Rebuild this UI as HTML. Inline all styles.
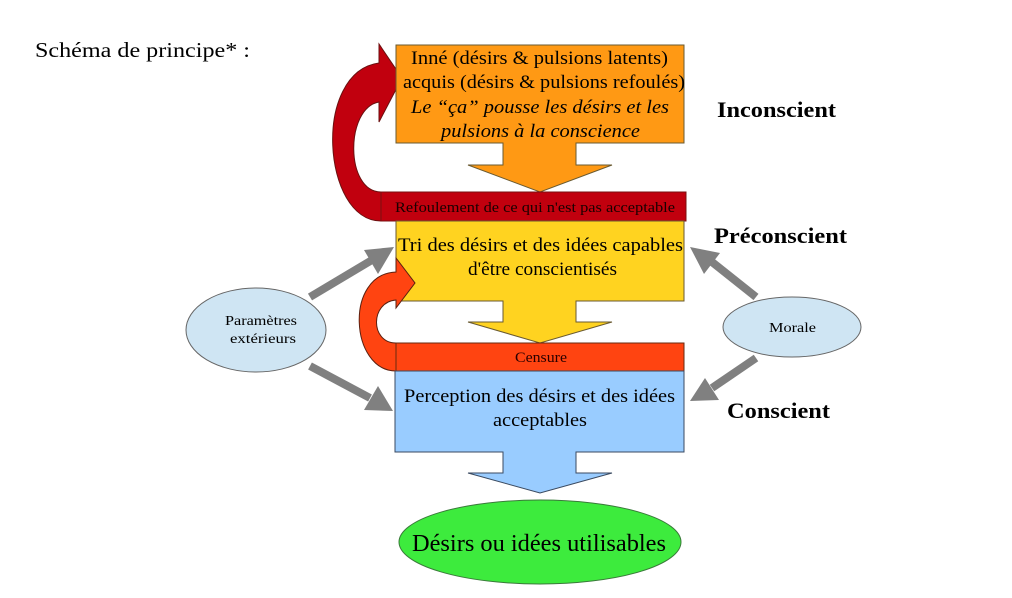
<!DOCTYPE html>
<html><head><meta charset="utf-8"><style>
html,body{margin:0;padding:0;background:#fff;}
svg{display:block;}
text{font-family:"Liberation Serif",serif;}
</style></head><body>
<svg width="1012" height="598" viewBox="0 0 1012 598" xmlns="http://www.w3.org/2000/svg">
<rect width="1012" height="598" fill="#fff"/>
<text x="35" y="57" font-size="21" fill="#000" textLength="215" lengthAdjust="spacingAndGlyphs">Schéma de principe* :</text>

<!-- big red curved arrow -->
<path d="M381,221 C322,221 312,72 379,63 L379,44 L402,78 L379,122 L379,102 C345,108 345,192 381,192 Z" fill="#c1000e" stroke="#6a1010" stroke-width="1"/>

<!-- orange box + arrow -->
<polygon points="396,45 684,45 684,143 576,143 576,165 612,165 540,192 468,165 503,165 503,143 396,143" fill="#ff9914" stroke="#6a5a30" stroke-width="1"/>
<text x="411" y="64" font-size="19" textLength="257" lengthAdjust="spacingAndGlyphs">Inné (désirs &amp; pulsions latents)</text>
<text x="403" y="88" font-size="19" textLength="282" lengthAdjust="spacingAndGlyphs">acquis (désirs &amp; pulsions refoulés)</text>
<text x="411" y="113" font-size="19" font-style="italic" textLength="258" lengthAdjust="spacingAndGlyphs">Le “ça” pousse les désirs et les</text>
<text x="441" y="137" font-size="19" font-style="italic" textLength="199" lengthAdjust="spacingAndGlyphs">pulsions à la conscience</text>

<!-- red bar -->
<rect x="381" y="192" width="305" height="29" fill="#c1000e" stroke="#7a1010" stroke-width="1"/>
<text x="395" y="212" font-size="15" fill="#1a0000" textLength="280" lengthAdjust="spacingAndGlyphs">Refoulement de ce qui n'est pas acceptable</text>

<!-- yellow box + arrow -->
<polygon points="396,221 684,221 684,301 576,301 576,322 612,322 540,343 468,322 503,322 503,301 396,301" fill="#ffd320" stroke="#6a5a30" stroke-width="1"/>
<text x="398" y="251" font-size="19" textLength="285" lengthAdjust="spacingAndGlyphs">Tri des désirs et des idées capables</text>
<text x="468" y="275" font-size="19" textLength="149" lengthAdjust="spacingAndGlyphs">d'être conscientisés</text>

<!-- small curved arrow -->
<path d="M396,371 C350,371 344,274 396,272 L396,258 L415,283 L396,308 L396,300 C370,302 370,343 396,343 Z" fill="#ff4411" stroke="#5a2010" stroke-width="1"/>

<!-- censure bar -->
<rect x="396" y="343" width="288" height="28" fill="#ff4411" stroke="#6a2a10" stroke-width="1"/>
<text x="515" y="362" font-size="15" fill="#2a0000" textLength="52" lengthAdjust="spacingAndGlyphs">Censure</text>

<!-- blue box + arrow -->
<polygon points="395,371 684,371 684,452 576,452 576,473 612,473 540,493 468,473 503,473 503,452 395,452" fill="#99ccff" stroke="#3a4a60" stroke-width="1"/>
<text x="404" y="402" font-size="19" textLength="271" lengthAdjust="spacingAndGlyphs">Perception des désirs et des idées</text>
<text x="493" y="426" font-size="19" textLength="94" lengthAdjust="spacingAndGlyphs">acceptables</text>

<!-- green ellipse -->
<ellipse cx="540" cy="542" rx="141" ry="42" fill="#3deb3d" stroke="#3a7a3a" stroke-width="1"/>
<text x="412" y="551" font-size="24" textLength="254" lengthAdjust="spacingAndGlyphs">Désirs ou idées utilisables</text>

<!-- gray arrows -->
<g stroke="#808080" stroke-width="8" fill="#808080">
<line x1="310" y1="297" x2="372" y2="260"/>
<line x1="310" y1="366" x2="370" y2="398"/>
<line x1="756" y1="297" x2="712" y2="262"/>
<line x1="756" y1="358" x2="712" y2="388"/>
</g>
<g fill="#808080">
<polygon points="394,247 364,250 378,274"/>
<polygon points="393,411 378,386 364,410"/>
<polygon points="690,247 720,253 704,274"/>
<polygon points="690,401 705,378 719,400"/>
</g>

<!-- side ellipses -->
<ellipse cx="256" cy="330" rx="70" ry="42" fill="#cfe5f3" stroke="#666" stroke-width="1"/>
<text x="225" y="325" font-size="14" textLength="72" lengthAdjust="spacingAndGlyphs">Paramètres</text>
<text x="230" y="343" font-size="14" textLength="66" lengthAdjust="spacingAndGlyphs">extérieurs</text>
<ellipse cx="792" cy="327" rx="69" ry="30" fill="#cfe5f3" stroke="#666" stroke-width="1"/>
<text x="769" y="332" font-size="14" textLength="47" lengthAdjust="spacingAndGlyphs">Morale</text>

<!-- level labels -->
<text x="717" y="117" font-size="22" font-weight="bold" textLength="119" lengthAdjust="spacingAndGlyphs">Inconscient</text>
<text x="714" y="243" font-size="22" font-weight="bold" textLength="133" lengthAdjust="spacingAndGlyphs">Préconscient</text>
<text x="727" y="418" font-size="22" font-weight="bold" textLength="103" lengthAdjust="spacingAndGlyphs">Conscient</text>
</svg>
</body></html>
